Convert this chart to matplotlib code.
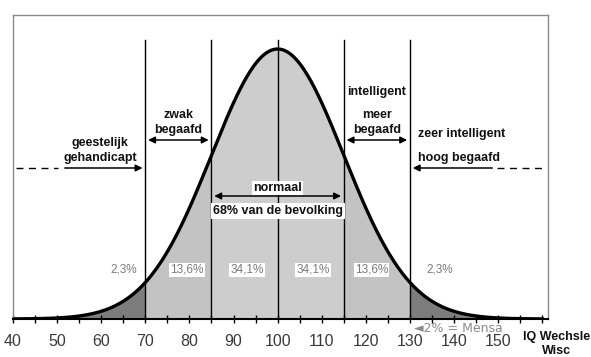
import numpy as np
import matplotlib
matplotlib.use("Agg")
import matplotlib.pyplot as plt

# ---- data ----
mean_iq = 100
sd_iq = 15
boundaries = [70, 85, 100, 115, 130]
tick_values = [40, 50, 60, 70, 80, 90, 100, 110, 120, 130, 140, 150]
pct_labels = ["2,3%", "13,6%", "34,1%", "34,1%", "13,6%", "2,3%"]
pct_x = [65, 79.5, 93, 108, 121.3, 136.8]
pct_boxed = [False, True, True, True, True, False]

PEAK = 270.0  # height of curve peak in axis units

fig = plt.figure(figsize=(5.91, 3.57), dpi=100)
W, H = 591, 357
ax = fig.add_axes([13 / W, (H - 319) / H, (548 - 13) / W, (319 - 15) / H])
ax.set_xlim(40, 161.3)
ax.set_ylim(0, 304)

x = np.linspace(40, 160, 800)
y = PEAK * np.exp(-(x - mean_iq) ** 2 / (2 * sd_iq ** 2))

def band(a, b, color):
    m = (x >= a) & (x <= b)
    ax.fill_between(x[m], 0, y[m], color=color, lw=0, zorder=1)

band(40, 70, "#7d7d7d")
band(70, 85, "#c3c3c3")
band(85, 115, "#cdcdcd")
band(115, 130, "#c3c3c3")
band(130, 160, "#7d7d7d")

ax.plot(x, y, color="black", lw=2.4, zorder=4)

for b in boundaries:
    ax.plot([b, b], [0, 279], color="black", lw=1, zorder=3)

# spines
for s in ["left", "top", "right"]:
    ax.spines[s].set_color("#8a8a8a")
    ax.spines[s].set_linewidth(1)
ax.spines["bottom"].set_color("black")
ax.spines["bottom"].set_linewidth(1.5)
ax.set_yticks([])
ax.set_xticks(np.arange(40, 161, 5), minor=True)
ax.set_xticks(tick_values)
ax.set_xticklabels([str(v) for v in tick_values], fontsize=11.5,
                   family="Liberation Sans", color="#3a3a3a")
ax.tick_params(axis="x", which="both", direction="inout", length=6,
               width=1, color="black", pad=8)

# percent labels
for xv, lab, boxed in zip(pct_x, pct_labels, pct_boxed):
    kw = dict(ha="center", va="center", fontsize=8.5, color="#7a7a7a",
              family="Liberation Sans", zorder=6)
    if boxed:
        kw["bbox"] = dict(boxstyle="square,pad=0.1", fc="white", ec="none")
    ax.text(xv, 49, lab, **kw)

def px2iq(px):
    return (px - 13) / 4.41 + 40

def py(ypx):
    return 319 - ypx

bold = dict(fontsize=9, fontweight="bold", family="Liberation Sans",
            color="#111111", zorder=7)
arrow = dict(arrowstyle="-|>", color="black", lw=1.1, mutation_scale=10)
darrow = dict(arrowstyle="<|-|>", color="black", lw=1.1, mutation_scale=10)

# geestelijk gehandicapt
ax.text(px2iq(100), py(143), "geestelijk", ha="center", va="center", **bold)
ax.text(px2iq(100), py(158), "gehandicapt", ha="center", va="center", **bold)
ax.plot([px2iq(16), px2iq(58)], [py(168)] * 2, color="black", lw=1,
        ls=(0, (5, 4)))
ax.annotate("", xy=(70, py(168)), xytext=(px2iq(62), py(168)),
            arrowprops=arrow, zorder=7)

# zwak begaafd
ax.text(77.5, py(115), "zwak", ha="center", va="center", **bold)
ax.text(77.5, py(130), "begaafd", ha="center", va="center", **bold)
ax.annotate("", xy=(85, py(140)), xytext=(70, py(140)), arrowprops=darrow)

# normaal
ax.text(100, py(188), "normaal", ha="center", va="center",
        bbox=dict(boxstyle="square,pad=0.1", fc="white", ec="none"), **bold)
ax.annotate("", xy=(115, py(196)), xytext=(85, py(196)), arrowprops=darrow,
            zorder=6)
ax.text(100, py(211), "68% van de bevolking", ha="center", va="center",
        bbox=dict(boxstyle="square,pad=0.15", fc="white", ec="none"), **bold)

# intelligent / meer begaafd
ax.text(122.5, py(92), "intelligent", ha="center", va="center", **bold)
ax.text(122.5, py(115), "meer", ha="center", va="center", **bold)
ax.text(122.5, py(130), "begaafd", ha="center", va="center", **bold)
ax.annotate("", xy=(130, py(140)), xytext=(115, py(140)), arrowprops=darrow)

# zeer intelligent / hoog begaafd
ax.text(px2iq(418), py(134), "zeer intelligent", ha="left", va="center", **bold)
ax.text(px2iq(418), py(158), "hoog begaafd", ha="left", va="center", **bold)
ax.annotate("", xy=(130, py(168)), xytext=(px2iq(495), py(168)),
            arrowprops=arrow, zorder=7)
ax.plot([px2iq(497), px2iq(545)], [py(168)] * 2, color="black", lw=1,
        ls=(0, (5, 4)))

# Mensa
ax.text(px2iq(414), -10, "\u25c42% = Mensa", ha="left", va="center",
        fontsize=9, color="#8a8a8a", family="DejaVu Sans", clip_on=False)

# axis title
fig.text(557 / W, (H - 337) / H, "IQ Wechsle", ha="center", va="center",
         fontsize=9, fontweight="bold", family="Liberation Sans", color="#111111")
fig.text(557 / W, (H - 351) / H, "Wisc", ha="center", va="center",
         fontsize=9, fontweight="bold", family="Liberation Sans", color="#111111")

fig.savefig("out.png", dpi=100)
